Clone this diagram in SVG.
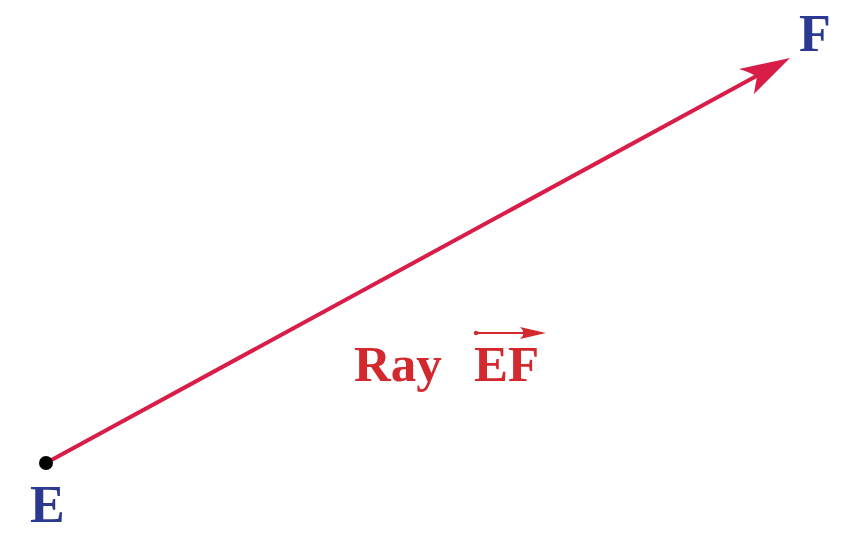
<svg xmlns="http://www.w3.org/2000/svg" width="846" height="540" viewBox="0 0 846 540">
<style>
.lbl{font-family:"Liberation Serif","Times New Roman",serif;font-weight:bold;}
.pt{fill:#2b3990;font-size:52px;}
.cap{fill:#d3282e;font-size:51px;}
</style>
<rect width="846" height="540" fill="#ffffff"/>
<g id="connectors">
<line x1="46" y1="463" x2="762" y2="73" stroke="#d81e48" stroke-width="4"/>
<path d="M790,58 L739,69 Q752,73 757,77 Q755,86 754,94 Z" fill="#d81e48"/>
</g>
<g id="node-E">
<circle cx="46" cy="463" r="7" fill="#000"/>
<text class="lbl pt" x="30" y="522">E</text>
</g>
<g id="node-F">
<text class="lbl pt" x="799" y="51">F</text>
</g>
<g id="label">
<text class="lbl cap" x="354" y="381">Ray</text>
<text class="lbl cap" x="474" y="381">EF</text>
<circle cx="476" cy="333" r="2.2" fill="#d3282e"/>
<line x1="476" y1="333" x2="532" y2="333" stroke="#d3282e" stroke-width="2"/>
<path d="M546,333 L520,327 Q527,333 520,339 Z" fill="#d3282e"/>
</g>
</svg>
